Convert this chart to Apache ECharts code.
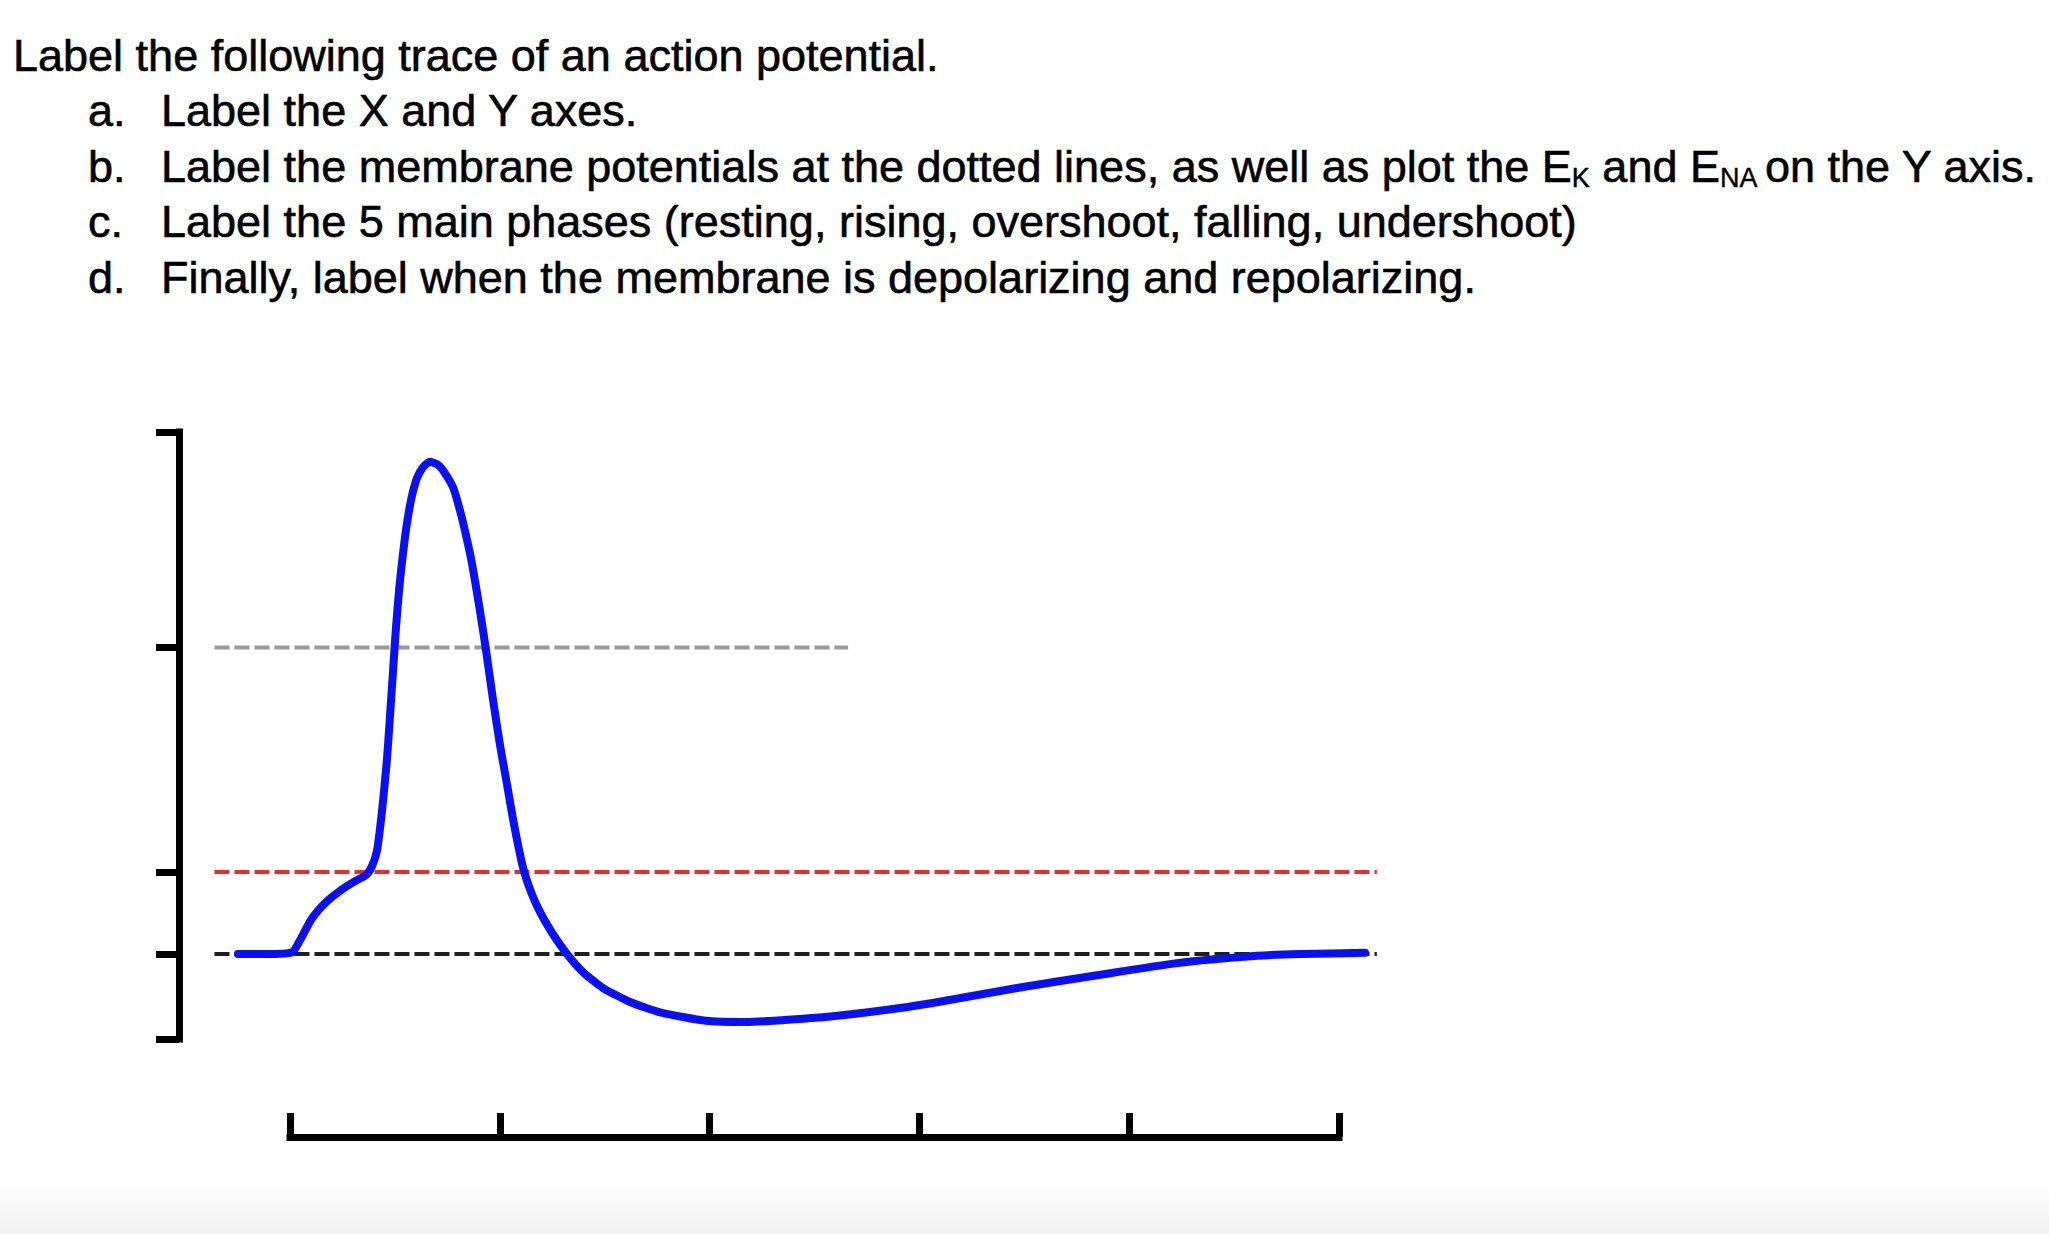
<!DOCTYPE html>
<html>
<head>
<meta charset="utf-8">
<script src="https://cdn.jsdelivr.net/npm/echarts@6/dist/echarts.min.js"></script>
<style>
html,body{margin:0;padding:0;background:#fff;}
#c{width:2049px;height:1234px;}
</style>
</head>
<body>
<div id="c"></div>
<script>
// ---- question text ----
const titleLine = 'Label the following trace of an action potential.';
const itemMarks = ['a.', 'b.', 'c.', 'd.'];
const itemTexts = [
  'Label the X and Y axes.',
  null, // rich line with subscripts (below)
  'Label the 5 main phases (resting, rising, overshoot, falling, undershoot)',
  'Finally, label when the membrane is depolarizing and repolarizing.'
];
const itemBRich = '{n|Label the membrane potentials at the dotted lines, as well as plot the E}{s|K}{n| and E}{s|NA }{n|on the Y axis.}';

// ---- axes (arbitrary units, labels intentionally blank) ----
const xTicks = [0, 1, 2, 3, 4, 5];            // time bracket ticks
const yTicks = [0, 14, 27.5, 64.5, 100];       // membrane potential bracket ticks

// ---- action potential trace (time, potential) ----
const traceX = [-0.248, -0.119, 0.010, 0.048, 0.105, 0.167, 0.238, 0.310, 0.362, 0.391,
  0.415, 0.439, 0.462, 0.477, 0.491, 0.505, 0.520, 0.534, 0.553, 0.577,
  0.605, 0.634, 0.667, 0.701, 0.729, 0.777, 0.810, 0.844, 0.867, 0.901,
  0.934, 0.968, 1.001, 1.034, 1.068, 1.111, 1.149, 1.192, 1.249, 1.320,
  1.397, 1.492, 1.621, 1.764, 1.983, 2.173, 2.431, 2.631, 2.908, 3.089,
  3.465, 3.847, 4.228, 4.609, 4.814, 5.124];
const traceY = [14.0, 14.0, 14.3, 16.3, 19.9, 22.4, 24.4, 26.0, 27.0, 28.5,
  31.1, 37.7, 46.0, 53.4, 60.6, 67.7, 74.0, 78.6, 83.9, 88.8,
  92.4, 94.2, 95.1, 94.7, 93.7, 90.9, 87.1, 82.2, 78.4, 71.5,
  64.1, 55.8, 48.4, 42.0, 35.3, 28.2, 24.2, 20.9, 17.5, 14.0,
  11.0, 8.4, 6.1, 4.4, 3.0, 2.8, 3.3, 3.9, 5.1, 6.1,
  8.4, 10.5, 12.5, 13.7, 14.0, 14.2];

// ---- dotted reference levels ----
const guideNames = ['upper level', 'threshold', 'resting'];
const guideY = [64.5, 27.5, 14];
const guideStart = [-0.36, -0.36, -0.36];
const guideEnd = [2.66, 5.18, 5.18];
const guideColors = ['#9a9a9a', '#e3302c', '#1e1e1e'];

const FONT = '"Liberation Sans", Arial, Helvetica, sans-serif';
const chart = echarts.init(document.getElementById('c'), null, {renderer: 'svg'});

const baseLines = [55, 110.5, 166, 221.5, 277];
const textStyle = {font: '45px ' + FONT, fill: '#000', stroke: '#000', lineWidth: 0.6, verticalAlign: 'middle'};
const graphics = [];
graphics.push({
  type: 'rect', silent: true, z: -10,
  shape: {x: 0, y: 1180, width: 2049, height: 54},
  style: {fill: new echarts.graphic.LinearGradient(0, 0, 0, 1, [
    {offset: 0, color: '#ffffff'}, {offset: 1, color: '#f1f1f1'}])}
});
graphics.push({
  type: 'text', x: 13, y: baseLines[0],
  style: Object.assign({text: titleLine}, textStyle)
});
itemMarks.forEach((m, i) => {
  graphics.push({
    type: 'text', x: 88, y: baseLines[i + 1],
    style: Object.assign({text: m}, textStyle)
  });
  if (itemTexts[i] !== null) {
    graphics.push({
      type: 'text', x: 161, y: baseLines[i + 1],
      style: Object.assign({text: itemTexts[i]}, textStyle)
    });
  } else {
    graphics.push({
      type: 'text', x: 161, y: baseLines[i + 1],
      style: {
        text: itemBRich, verticalAlign: 'middle', fill: '#000',
        rich: {
          n: {fontSize: 45, fontFamily: FONT, lineHeight: 50, fill: '#000', stroke: '#000', lineWidth: 0.6},
          s: {fontSize: 27, fontFamily: FONT, lineHeight: 30, verticalAlign: 'bottom', fill: '#000', stroke: '#000', lineWidth: 0.4}
        }
      }
    });
  }
});

const guideSeries = guideY.map((y, i) => ({
  name: guideNames[i],
  type: 'line', xAxisIndex: 0, yAxisIndex: 0,
  data: [[guideStart[i], y], [guideEnd[i], y]],
  symbol: 'none', silent: true, z: 2,
  lineStyle: {color: guideColors[i], width: 4, type: [15, 5]}
}));

chart.setOption({
  backgroundColor: '#ffffff',
  animation: false,
  graphic: graphics,
  grid: [
    {left: 179, top: 432, width: 1223, height: 607, containLabel: false, outerBoundsMode: 'none'},
    {left: 290, top: 1100, width: 1049, height: 37, containLabel: false, outerBoundsMode: 'none'}
  ],
  xAxis: [
    {gridIndex: 0, type: 'value', min: -0.529, max: 5.3, show: false},
    {gridIndex: 1, type: 'value', min: 0, max: 5, interval: 1, position: 'bottom',
      axisLine: {show: true, onZero: false, lineStyle: {color: '#000', width: 7, cap: 'square'}},
      axisTick: {show: true, inside: true, length: 24, customValues: xTicks, lineStyle: {color: '#000', width: 7}},
      axisLabel: {show: false}, splitLine: {show: false}}
  ],
  yAxis: [
    {gridIndex: 0, type: 'value', min: 0, max: 100, position: 'left',
      axisLine: {show: true, onZero: false, lineStyle: {color: '#000', width: 7, cap: 'square'}},
      axisTick: {show: true, inside: false, length: 23, customValues: yTicks, lineStyle: {color: '#000', width: 7}},
      axisLabel: {show: false, customValues: yTicks}, splitLine: {show: false}},
    {gridIndex: 1, type: 'value', min: 0, max: 1, show: false}
  ],
  series: guideSeries.concat([{
    name: 'membrane potential',
    type: 'line', xAxisIndex: 0, yAxisIndex: 0,
    data: traceX.map((x, i) => [x, traceY[i]]),
    symbol: 'none', smooth: 0.2, z: 5,
    lineStyle: {color: '#0a10f2', width: 8, cap: 'round', join: 'round'}
  }])
});
</script>
</body>
</html>
